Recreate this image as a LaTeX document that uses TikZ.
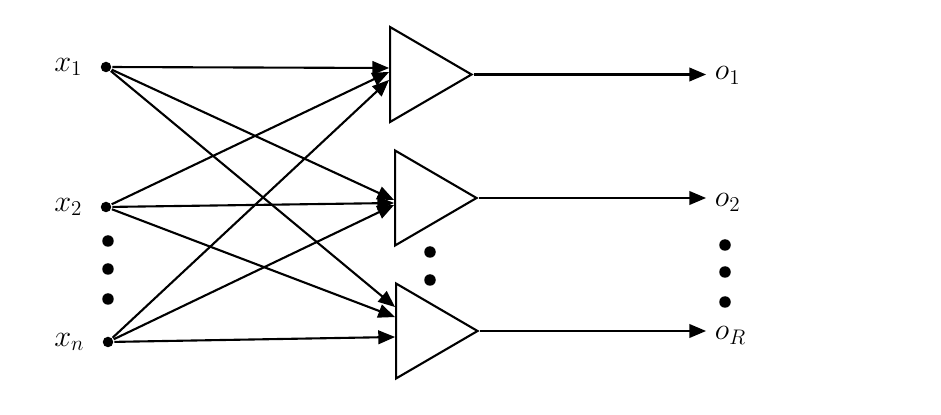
\documentclass[tikz,border=0pt]{standalone}
\usetikzlibrary{shapes.geometric,arrows,positioning,calc}
\tikzset
{
    inputdot/.style = {circle, fill=black, inner sep=0pt, minimum size=0.21cm},
    moredot/.style  = {circle, fill=black, inner sep=0pt, minimum size=0.23cm},
    neuron/.style   = {isosceles triangle, isosceles triangle stretches, draw=black, inner sep=0pt, minimum width=1.9cm, minimum height=1.63cm, anchor=west},
    inlabel/.style  = {inner sep=0.3em},
    outlabel/.style = {inner sep=4.5pt, anchor=base west}
}
\begin{document}
\begin{tikzpicture}[x=0.02cm, y=-0.02cm, ->, >=triangle 45, line width=1.2pt, font=\LARGE]
\useasboundingbox (0,0) rectangle (941,415);
% inputs
\node [inputdot] at (106,67) (x1) {};
\node [inputdot] at (106,207) (x2) {};
\node [inputdot] at (108,342) (xn) {};
\node [inlabel, left=0.22cm of x1] (lx1) {$x_1$};
\node [inlabel, left=0.22cm of x2] (lx2) {$x_2$};
\node [inlabel, left=0.22cm of xn] (lxn) {$x_n$};
\foreach \y in {241,269,299}
    \node [moredot] at (108,\y) (ld\y) {};
% neurons
\node [neuron] at (389,74.5) (t1) {};
\node [neuron] at (394,198) (t2) {};
\node [neuron] at (395,331) (t3) {};
\foreach \y in {252,280}
    \node [moredot] at (430,\y) (md\y) {};
% outputs
\node [outlabel] at (706,80) (o1) {$o_1$};
\node [outlabel] at (706,207) (o2) {$o_2$};
\node [outlabel] at (706,340) (oR) {$o_R$};
\foreach \y in {245,272,302}
    \node [moredot] at (725,\y) (rd\y) {};
% connections
\draw (x1) edge ($(t1.west)+(0,-6.5)$);
\draw (x1) edge ($(t2.west)+(0,2)$);
\draw (x1) edge ($(t3.west)+(0,-24)$);
\draw (x2) edge ($(t1.west)+(0,-2.5)$);
\draw (x2) edge ($(t2.west)+(0,5)$);
\draw (x2) edge ($(t3.west)+(0,-14)$);
\draw (xn) edge ($(t1.west)+(0,5.5)$);
\draw (xn) edge ($(t2.west)+(0,7)$);
\draw (xn) edge ($(t3.west)+(0,6)$);
\draw (t1.apex) -- (t1.apex -| o1.west);
\draw (t2.apex) -- (t2.apex -| o2.west);
\draw (t3.apex) -- (t3.apex -| oR.west);
\end{tikzpicture}
\end{document}
